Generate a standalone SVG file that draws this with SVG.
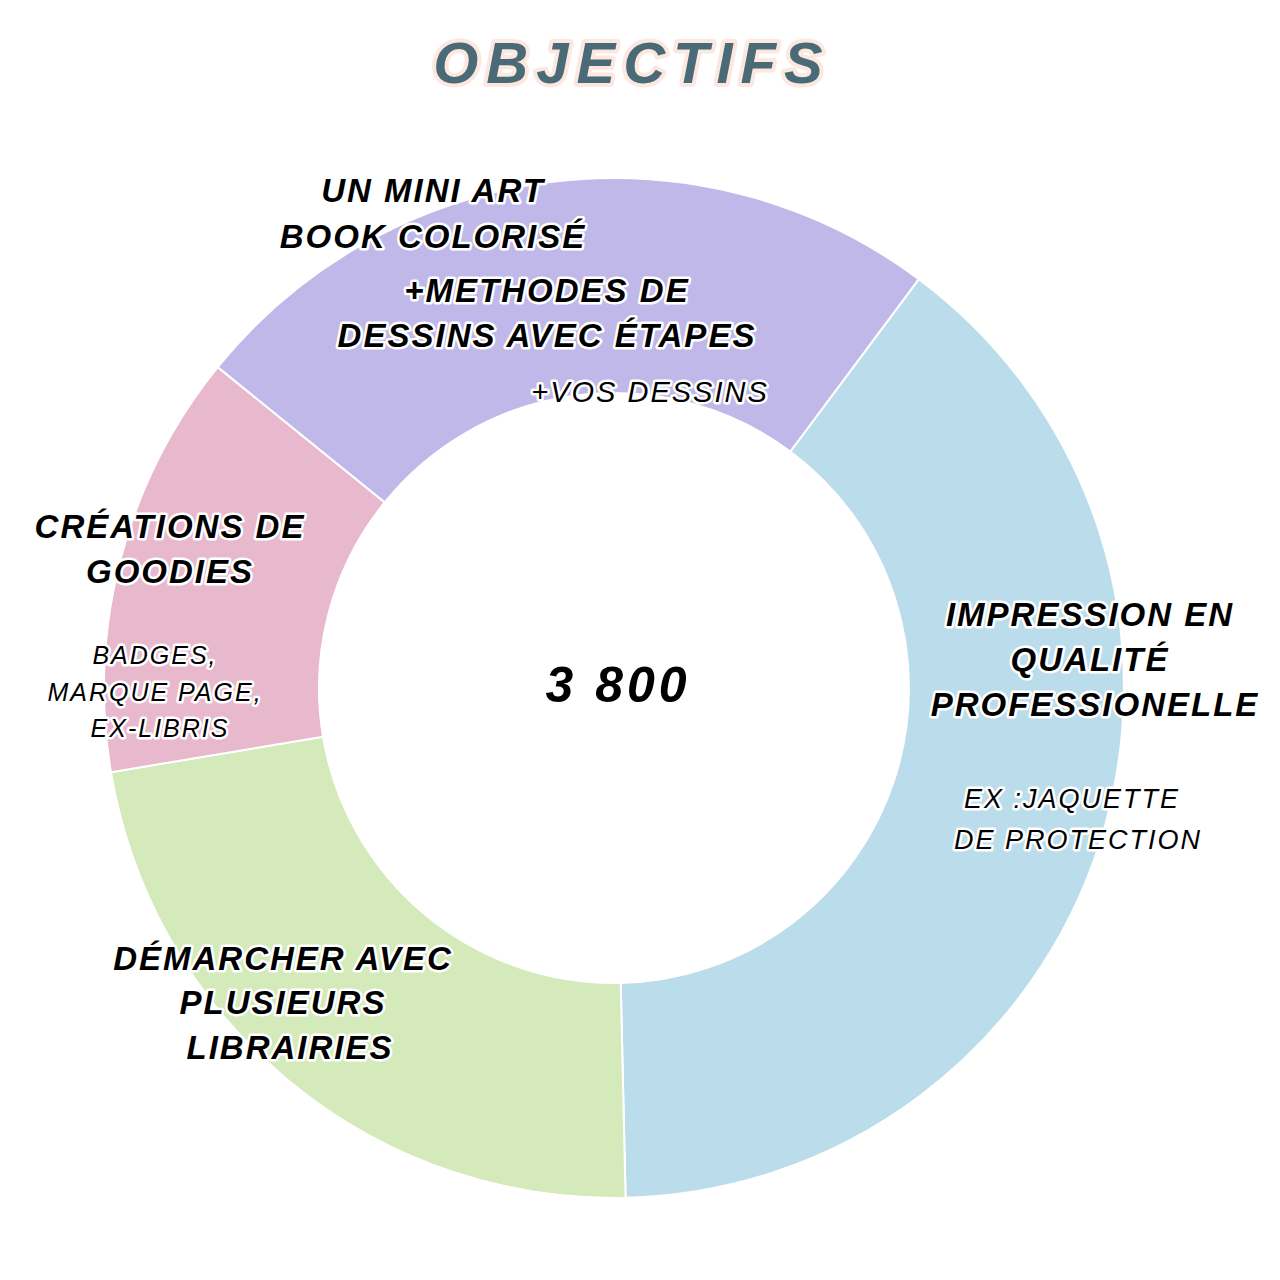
<svg xmlns="http://www.w3.org/2000/svg" width="1280" height="1280" viewBox="0 0 1280 1280">
<style>
.s{stroke:#fff;stroke-width:2}
.t{font-family:"Liberation Sans",sans-serif;font-weight:bold;font-style:italic;fill:#000;stroke:#fff;stroke-width:5;paint-order:stroke;stroke-linejoin:round;text-anchor:middle;letter-spacing:2px}
.m{font-size:33px}
.n{font-size:27px;font-weight:normal}
</style>
<rect width="1280" height="1280" fill="#fff"/>
<text x="632" y="83" class="t" style="font-size:58px;fill:#4a6a78;stroke:#fde8e0;stroke-width:8;letter-spacing:8px">OBJECTIFS</text>
<g id="blue"><path class="s" fill="#bbdcea" d="M918.8,279.1 A510,510 0 0 1 625.6,1197.8 L620.7,982.9 A295,295 0 0 0 790.3,451.5 Z"/>
<text class="t m"><tspan x="1090" y="626">IMPRESSION EN</tspan><tspan x="1090" y="671">QUALITÉ</tspan><tspan x="1095" y="716">PROFESSIONELLE</tspan></text>
<text class="t n"><tspan x="1072" y="808">EX :JAQUETTE</tspan><tspan x="1078" y="849">DE PROTECTION</tspan></text></g>
<g id="green"><path class="s" fill="#d4eaba" d="M625.6,1197.8 A510,510 0 0 1 111.0,772.2 L323.0,736.7 A295,295 0 0 0 620.7,982.9 Z"/>
<text class="t m"><tspan x="283" y="970">DÉMARCHER AVEC</tspan><tspan x="283" y="1014">PLUSIEURS</tspan><tspan x="290" y="1059">LIBRAIRIES</tspan></text></g>
<g id="pink"><path class="s" fill="#e8b8cd" d="M111.0,772.2 A510,510 0 0 1 217.7,367.1 L384.7,502.4 A295,295 0 0 0 323.0,736.7 Z"/>
<text class="t m"><tspan x="170" y="538">CRÉATIONS DE</tspan><tspan x="170" y="583">GOODIES</tspan></text>
<text class="t n" style="font-size:25px"><tspan x="155" y="664">BADGES,</tspan><tspan x="155" y="701">MARQUE PAGE,</tspan><tspan x="160" y="737">EX-LIBRIS</tspan></text></g>
<g id="purple"><path class="s" fill="#c0b8e8" d="M217.7,367.1 A510,510 0 0 1 918.8,279.1 L790.3,451.5 A295,295 0 0 0 384.7,502.4 Z"/>
<text class="t m"><tspan x="433" y="202">UN MINI ART</tspan><tspan x="433" y="248">BOOK COLORISÉ</tspan><tspan x="547" y="302">+METHODES DE</tspan><tspan x="547" y="347">DESSINS AVEC ÉTAPES</tspan></text>
<text class="t n" style="font-size:29px"><tspan x="650" y="402">+VOS DESSINS</tspan></text></g>
<g id="connectors"/>
<g id="center"><text x="618" y="702" class="t" style="font-size:50px;letter-spacing:4px">3 800</text></g>
</svg>
